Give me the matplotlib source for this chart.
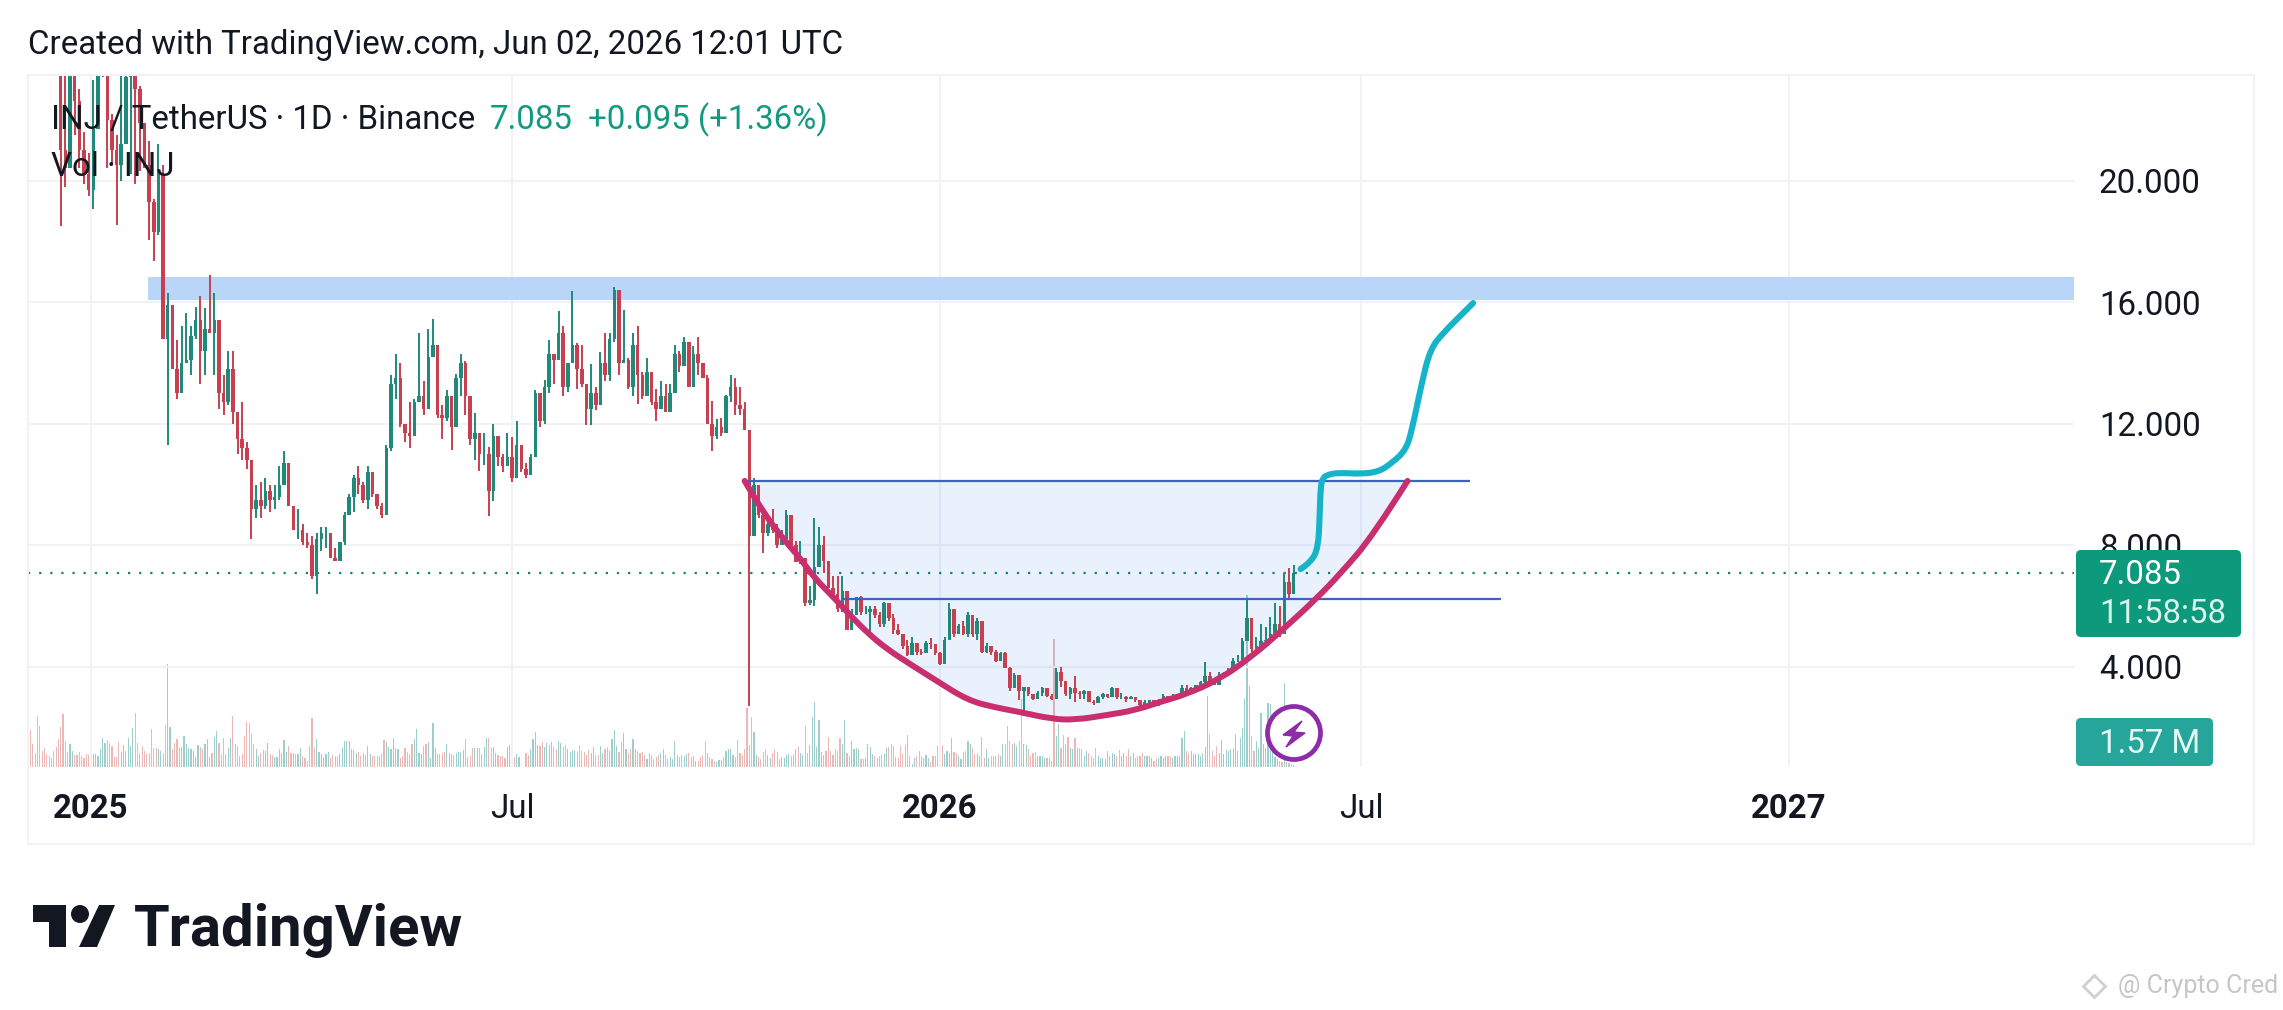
import numpy as np
import pandas as pd
import matplotlib
matplotlib.use("Agg")
import matplotlib.pyplot as plt
from matplotlib.patches import Circle, FancyBboxPatch, PathPatch, Polygon, Rectangle
from matplotlib.path import Path

plt.rcParams['font.family'] = ['Roboto', 'DejaVu Sans']

W, H = 2283, 1010
START = pd.Timestamp('2025-01-01')

# price candles, one every 2 days, first at day -13 (days counted from 2025-01-01)
first_day = -13
first_open = 24.5
closes = [
    21.0, 20.4, 25, 22.6, 21, 20.2, 19.7, 21.7, 23.5, 25,
    22, 21, 20.5, 21.2, 23.4, 25, 23, 21.9, 20.5, 19.3,
    18.3, 20.2, 14.8, 15.9, 13.8, 13, 14, 14.1, 14.9, 15.4,
    14.4, 15.1, 15, 15.4, 13, 12.7, 13.8, 12.4, 11.5, 11.2,
    10.8, 9.2, 9.5, 9.3, 9.8, 9.5, 9.6, 10, 10.7, 9.3,
    8.5, 8.5, 8.1, 8, 7, 8.2, 8.4, 8.4, 7.6, 7.5,
    8.1, 9, 9.6, 10.2, 10, 9.5, 10.4, 9.7, 9.3, 9,
    11.2, 13.3, 13.5, 12, 11.7, 11.6, 12.7, 12.9, 12.5, 14.2,
    14.6, 12.3, 12.2, 12.9, 11.9, 13.5, 14, 12.9, 11.5, 11.7,
    11, 11, 9.8, 11.6, 10.9, 10.6, 10.9, 10.2, 11.3, 10.5,
    10.3, 10.9, 13, 12.1, 13.2, 14.3, 14.1, 15, 13.2, 14,
    14.6, 13.8, 13.3, 12.5, 13, 12.6, 14, 13.6, 14.8, 16.4,
    14, 14.1, 13.2, 14.6, 13.6, 12.9, 13.7, 12.7, 12.5, 12.9,
    12.4, 13, 14.3, 13.9, 14.7, 13.2, 14.3, 14, 13.5, 12,
    11.6, 11.9, 11.7, 12.9, 13.2, 12.6, 12.5, 11.8, 8.3, 10,
    9, 8.4, 8.7, 8.5, 8, 8.2, 9, 8, 7.45, 7.6,
    6.1, 6.2, 7.3, 8, 7.5, 6.6, 6.4, 5.9, 6.5, 5.2,
    5.7, 6.3, 5.8, 5.8, 5.9, 5.7, 5.4, 6.1, 5.6, 5.2,
    5.1, 4.7, 4.4, 4.8, 4.5, 4.45, 4.8, 4.75, 4.45, 4.1,
    4.9, 5.9, 5.1, 5.35, 5.1, 5.7, 5.1, 5.5, 4.5, 4.7,
    4.5, 4.2, 4.45, 3.95, 3.3, 3.75, 3.2, 3.35, 3.1, 2.95,
    3.15, 3.3, 3.05, 2.95, 3.85, 3.55, 3.1, 3.3, 3.15, 3.1,
    3.2, 2.85, 2.8, 3, 3.1, 3, 3.3, 3, 3, 2.95,
    3, 2.9, 2.75, 2.85, 2.9, 2.75, 2.9, 3.05, 2.9, 2.95,
    3.1, 3.3, 3.2, 3.3, 3.4, 3.5, 3.7, 3.45, 3.4, 3.7,
    3.8, 3.9, 4.2, 4.2, 4.85, 5.6, 4.6, 4.7, 4.85, 4.9,
    5.1, 5.4, 5.1, 6.8, 6.4, 7.085,
]
highs = [
    25, 24, 26, 25, 23, 21.6, 20.9, 23.3, 24, 26,
    25, 22.2, 21.5, 23.5, 24, 26, 25, 23.1, 21.8, 21.3,
    19.4, 21.2, 20.5, 16.3, 14.95, 14.75, 15.2, 15.65, 15.2, 15.85,
    16.2, 15.8, 16.9, 16.3, 14.2, 13.6, 14.4, 14.4, 12.4, 12.7,
    11.4, 10.8, 10, 10.1, 10.2, 10, 10, 10.6, 11.1, 10.7,
    9.3, 9.2, 8.7, 8.4, 8.3, 8.4, 8.6, 8.6, 8.4, 7.9,
    8.1, 9.1, 9.7, 10.3, 10.6, 10.1, 10.6, 10.4, 9.7, 9.4,
    11.3, 13.6, 14.3, 14, 12, 12.7, 12.8, 15, 13.4, 15.1,
    15.45, 14.6, 12.6, 13.1, 12.9, 13.65, 14.3, 14.05, 12.9, 12.35,
    11.7, 11.7, 11.25, 12, 11.6, 11, 11.7, 11.55, 12.1, 11.3,
    10.7, 11, 13.1, 13, 13.45, 14.75, 14.3, 15.7, 15.2, 14,
    16.35, 14.65, 14.6, 13.3, 13.95, 13.2, 14.35, 15, 15, 16.5,
    16.4, 15.75, 14.15, 15, 15.2, 13.7, 14.15, 13.7, 13.15, 13.4,
    13.3, 13.3, 14.6, 14.4, 14.85, 14.7, 14.55, 14.85, 14, 13.6,
    12.75, 12.15, 12.2, 12.95, 13.6, 13.5, 13.2, 12.7, 11.8, 10.2,
    10, 9, 8.9, 9.2, 8.7, 8.5, 9.15, 9, 8.15, 8.15,
    7.6, 6.65, 8.9, 8.6, 8.3, 7.5, 7, 7, 7, 6.5,
    5.9, 6.3, 6.35, 6, 6, 6, 5.8, 6.15, 6.1, 5.75,
    5.4, 5.1, 4.9, 5, 4.8, 4.6, 4.85, 4.95, 4.75, 4.5,
    5, 6.1, 5.9, 5.4, 5.5, 5.8, 5.7, 5.6, 5.5, 4.8,
    4.7, 4.55, 4.5, 4.5, 4, 3.8, 3.75, 3.35, 3.35, 3.1,
    3.2, 3.35, 3.3, 3.1, 3.95, 4, 3.55, 3.35, 3.7, 3.2,
    3.25, 3.2, 2.9, 3.05, 3.15, 3.1, 3.35, 3.3, 3.15, 3.05,
    3.05, 3, 2.9, 2.9, 2.9, 2.9, 2.95, 3.1, 3.05, 3.1,
    3.1, 3.4, 3.4, 3.35, 3.4, 3.55, 4.15, 3.85, 3.6, 3.85,
    3.85, 3.95, 4.3, 4.4, 4.95, 6.2, 5.6, 5, 5.4, 5.3,
    5.65, 6.1, 6, 7.1, 7.25, 7.35,
]
lows = [
    18.5, 19.8, 20.5, 21.5, 20.4, 19.9, 19.5, 19.05, 21.7, 23.4,
    20.4, 20.5, 18.55, 20, 21.2, 20.2, 19.9, 20.3, 20.4, 18.05,
    17.35, 18.2, 14.8, 11.3, 13.8, 12.8, 13, 14, 13.6, 14.8,
    13.3, 13.6, 15, 13.6, 12.5, 12.3, 12.6, 12, 11, 10.8,
    10.5, 8.2, 8.9, 8.9, 9.2, 9.1, 9.2, 9.5, 10, 9.3,
    8.5, 8.2, 8, 7.9, 6.9, 6.4, 7.8, 7.9, 7.6, 7.5,
    7.5, 8, 9, 9.1, 9.7, 9.4, 9.2, 9.6, 9.2, 8.9,
    9, 11.1, 12.8, 11.9, 11.4, 11.2, 11.6, 12.7, 12.3, 12.5,
    14.2, 12.2, 11.5, 12.1, 11.15, 11.9, 12.9, 12.3, 11.3, 10.8,
    10.45, 10.65, 8.95, 9.45, 10.6, 10.4, 10.6, 10.1, 10.2, 10.4,
    10.2, 10.3, 10.9, 11.9, 12, 13, 13.3, 14.1, 12.9, 13.05,
    14, 13.15, 13.2, 11.95, 11.95, 12.45, 12.6, 13.4, 13.4, 14.7,
    13.6, 14, 13.15, 12.9, 12.65, 12.8, 12.9, 12.6, 12.1, 12.5,
    12.4, 12.4, 13, 13.7, 13.9, 13.2, 13.2, 13.6, 13.5, 12,
    11.1, 11.5, 11.6, 11.7, 12.7, 12.3, 12.3, 11.8, 2.7, 8.3,
    8.9, 7.75, 8.3, 8.4, 7.9, 8, 8.2, 7.85, 7.45, 7.4,
    6, 6.05, 6, 7.3, 7.1, 6.6, 6.3, 5.8, 5.8, 5.2,
    5.2, 5.7, 5.7, 5.75, 5, 5.6, 5.3, 5.3, 5.5, 5.1,
    5.05, 4.6, 4.35, 4.4, 4.4, 4.4, 4.45, 4.6, 4.4, 4.05,
    4.1, 4.9, 5, 5.1, 5.05, 5, 5, 4.9, 4.45, 4.45,
    4.4, 4.15, 4.2, 3.95, 3.2, 3.3, 2.9, 2.6, 3.05, 2.9,
    2.95, 3.05, 3, 2.9, 2.95, 3.35, 3.05, 2.95, 2.85, 2.95,
    2.95, 2.85, 2.75, 2.8, 2.95, 2.98, 3, 2.95, 2.95, 2.85,
    2.95, 2.85, 2.72, 2.75, 2.8, 2.72, 2.72, 2.85, 2.85, 2.9,
    2.95, 3.05, 3.15, 3.15, 3.25, 3.3, 3.4, 3.4, 3.4, 3.4,
    3.7, 3.7, 3.8, 4.15, 4.2, 4.85, 4.5, 4.5, 4.7, 4.8,
    4.85, 5.1, 5, 5.1, 6.2, 6.4,
]

# daily volume, unit 100k, segments start at day -27, 187, 322
vol_start_a = -27
vol_a = [
    46, 37, 23, 14, 51, 41, 16, 19, 13, 11, 9, 16, 20, 28, 40, 53, 26, 15, 23, 16,
    12, 12, 15, 11, 9, 13, 12, 10, 13, 13, 11, 18, 29, 24, 27, 24, 21, 10, 10, 25,
    15, 22, 16, 29, 21, 39, 54, 24, 14, 21, 16, 13, 14, 38, 19, 19, 18, 16, 14, 42,
    103, 40, 18, 24, 28, 19, 20, 31, 23, 19, 18, 16, 10, 22, 20, 18, 23, 28, 10, 14,
    30, 36, 24, 13, 29, 13, 19, 29, 51, 23, 21, 11, 13, 31, 45, 44, 33, 23, 18, 11,
    14, 17, 16, 24, 13, 12, 10, 10, 18, 14, 27, 15, 21, 14, 14, 13, 13, 19, 11, 9,
    6, 21, 49, 19, 28, 15, 13, 10, 13, 15, 9, 12, 11, 11, 13, 19, 26, 26, 26, 18,
    17, 14, 15, 11, 14, 12, 21, 13, 11, 11, 11, 11, 13, 27, 25, 20, 18, 29, 19, 18,
    9, 11, 19, 15, 13, 23, 28, 38, 14, 13, 21, 23, 25, 9, 44, 19, 13, 13, 14, 15,
    23, 14, 13, 12, 14, 15, 15, 17, 28, 10, 11, 19, 19, 19, 19, 13, 20, 29, 29, 19,
    20, 14, 12, 11, 11, 9, 20, 22, 10, 10, 13, 10,
]
vol_start_b = 187
vol_b = [
    14, 12, 18, 28, 35, 22, 21, 25, 20, 24, 22, 25, 20, 18, 26, 24, 20, 22, 18, 15,
    17, 16, 15, 22, 16, 15, 12, 17, 14, 20, 12, 12, 21, 14, 18, 20, 16, 28, 37, 21,
    15, 25, 34, 18, 14, 18, 28, 18, 16, 14, 15, 12, 8, 14, 12, 8, 10, 12, 14, 18,
    12, 8, 10, 8, 26, 12, 10, 12, 11, 13, 14, 10, 11, 6, 6, 10, 12, 26, 14, 10,
    8, 6, 5, 7, 7, 10, 16, 18, 18, 12, 10, 27, 14, 12, 18, 59, 22, 50, 35, 12,
    10, 8, 15, 18, 12, 9, 14, 18, 15, 8, 10, 9, 12, 13, 11, 13, 18, 20, 14, 12,
    41, 14, 22, 50, 65, 20, 47, 15, 12, 16, 30, 16, 12, 18, 16,
]
vol_start_c = 322
vol_c = [
    29, 23, 47, 14, 11, 26, 18, 19, 18, 8, 8, 9, 23, 20, 13, 11, 9, 11, 12, 13,
    19, 20, 23, 21, 10, 9, 21, 13, 22, 32, 11, 3, 9, 11, 16, 11, 9, 12, 9, 5,
    11, 11, 21, 9, 22, 13, 16, 14, 29, 15, 14, 11, 8, 15, 16, 26, 23, 19, 13, 13,
    11, 30, 9, 18, 9, 11, 11, 11, 13, 11, 23, 23, 41, 26, 23, 24, 21, 26, 68, 23,
    22, 18, 11, 14, 15, 11, 11, 11, 9, 9, 9, 6, 128, 31, 43, 19, 32, 23, 30, 19,
    18, 29, 19, 19, 18, 11, 16, 14, 11, 9, 19, 11, 9, 9, 8, 16, 11, 14, 13, 11,
    17, 11, 14, 11, 18, 11, 14, 9, 11, 11, 14, 11, 11, 11, 9, 6, 8, 9, 11, 9,
    11, 11, 11, 9, 11, 11, 11, 29, 36, 16, 14, 16, 13, 13, 13, 11, 14, 20, 71, 33,
    16, 11, 21, 14, 27, 13, 17, 16, 18, 18, 33, 16, 29, 39, 68, 172, 81, 31, 16, 26,
    19, 54, 23, 19, 64, 63, 15, 10, 8, 6, 5, 84, 5, 4, 3, 2,
]

# drawn objects
zone_low, zone_high, zone_day = 16.08, 16.83, 24.5
cup_top, cup_end_day = 10.12, 593
neck_price, neck_start_day, neck_end_day = 6.24, 323, 606
last_price = 7.085
arc_day = [281, 282, 287.6, 295.5, 305.5, 310.5, 321, 327, 334, 342, 352, 363, 377, 388.7, 398.6, 413,
           423, 437, 449, 460, 470, 484.6, 499, 513, 526.7, 537, 551, 566]
arc_price = [10.12, 9.99, 9.27, 8.4, 7.52, 6.97, 6.15, 5.65, 5.11, 4.6, 4.1, 3.57, 2.9, 2.67, 2.53, 2.29,
             2.26, 2.42, 2.58, 2.86, 3.08, 3.57, 4.34, 5.27, 6.24, 7.06, 8.3, 10.12]
path_day = [520, 524.8, 527.6, 528.2, 528.6, 529.5, 531.4, 536.3, 545.9, 553.6, 559.3, 565.3, 567.9, 571.8,
            575.7, 581.7, 589.9, 594.2]
path_price = [7.22, 7.46, 7.96, 8.94, 9.93, 10.2, 10.32, 10.39, 10.35, 10.42, 10.71, 11.14, 11.8, 13.24,
              14.46, 15.02, 15.64, 15.97]

price_ticks = [4, 8, 12, 16, 20]
time_ticks = ['2025-01-01', '2025-07-01', '2026-01-01', '2026-07-01', '2027-01-01']
time_labels = ['2025', 'Jul', '2026', 'Jul', '2027']

TEAL = '#1f8a7a'
RED = '#c8404f'
INK = '#131722'
GRID = '#f0f2f6'
FONT_PX = 33


def px(size):
    return size * 0.72


def smooth_path(xs, ys):
    # hand drawn strokes: read points as quadratic control points
    pts = np.column_stack([xs, ys])
    verts = [pts[0]]
    codes = [Path.MOVETO]
    for i in range(1, len(pts) - 1):
        end = pts[i + 1] if i == len(pts) - 2 else (pts[i] + pts[i + 1]) / 2
        verts += [pts[i], end]
        codes += [Path.CURVE3, Path.CURVE3]
    return Path(verts, codes)


n = min(len(closes), len(highs), len(lows))
days = first_day + 2 * np.arange(n)
df = pd.DataFrame({'day': days, 'close': closes[:n], 'high': highs[:n], 'low': lows[:n]})
df['open'] = df['close'].shift(1).fillna(first_open)
df['up'] = df['close'] >= df['open']
df['color'] = np.where(df['up'], TEAL, RED)

fig = plt.figure(figsize=(W / 100, H / 100), dpi=100, facecolor='white')
pane = [28 / W, (H - 767) / H, (2074 - 28) / W, 692 / H]
xlim = (-27.08, 852.5)

vax = fig.add_axes(pane, zorder=1)
vax.set_xlim(xlim)
vax.set_ylim(0, 692)
vax.axis('off')
for start, vals in [(vol_start_a, vol_a), (vol_start_b, vol_b), (vol_start_c, vol_c)]:
    vdays = start + np.arange(len(vals))
    idx = np.clip((vdays - first_day) // 2, 0, n - 1)
    vcolors = np.where(df['up'].values[idx], '#3f9f9a', '#d9736f')
    vax.bar(vdays, vals, width=0.5, color=vcolors, alpha=0.5, linewidth=0)

ax = fig.add_axes(pane, zorder=2)
ax.patch.set_alpha(0)
ax.set_xlim(xlim)
ax.set_ylim(0.71, 23.47)
for s in ax.spines.values():
    s.set_visible(False)
tick_days = [(pd.Timestamp(t) - START).days for t in time_ticks]
ax.set_xticks(tick_days, time_labels)
ax.set_yticks(price_ticks, [f'{p:.3f}' for p in price_ticks])
ax.yaxis.tick_right()
ax.tick_params(axis='both', length=0, labelcolor=INK, labelsize=px(FONT_PX))
ax.tick_params(axis='x', pad=px(26))
ax.tick_params(axis='y', pad=px(25))
for lab in ax.get_xticklabels():
    if lab.get_text() != 'Jul':
        lab.set_fontweight('bold')
ax.grid(True, color=GRID, lw=1.5, zorder=0)
ax.set_axisbelow(True)

ax.add_patch(Rectangle((zone_day, zone_low), xlim[1] - zone_day, zone_high - zone_low,
                       color='#b9d6f9', lw=0, zorder=1))
ax.fill_between(arc_day, arc_price, cup_top, color='#2e7bf0', alpha=0.1, lw=0, zorder=1)

ax.axhline(last_price, color='#1d7d6b', lw=1.6, ls=(0, (1, 4)), zorder=2)

ax.vlines(df['day'], df['low'], df['high'], colors=df['color'], lw=1.4, zorder=3)
ax.bar(df['day'], (df['close'] - df['open']).abs(), bottom=df[['open', 'close']].min(axis=1),
       width=1.5, color=df['color'], lw=0, zorder=3)

ax.hlines(cup_top, arc_day[0], cup_end_day, color='#3c62c4', lw=1.6, zorder=4)
ax.hlines(neck_price, neck_start_day, neck_end_day, color='#3c62c4', lw=1.6, zorder=4)
ax.add_patch(PathPatch(smooth_path(arc_day, arc_price), fill=False, ec='#c92f6e', lw=4.3,
                       capstyle='round', joinstyle='round', zorder=5))
ax.add_patch(PathPatch(smooth_path(path_day, path_price), fill=False, ec='#17b3c9', lw=4.4,
                       capstyle='round', joinstyle='round', zorder=5))

# everything around the pane, in figure pixels
ov = fig.add_axes([0, 0, 1, 1], zorder=3)
ov.set_xlim(0, W)
ov.set_ylim(H, 0)
ov.axis('off')
ov.patch.set_alpha(0)

ov.add_patch(Rectangle((28, 75), 2254 - 28, 844 - 75, fill=False, ec=GRID, lw=1.5))

ov.text(28, 45, 'Created with TradingView.com, Jun 02, 2026 12:01 UTC', fontsize=px(FONT_PX), color=INK, va='center')
ov.text(51, 120, 'INJ / TetherUS · 1D · Binance', fontsize=px(FONT_PX), color=INK, va='center')
ov.text(490, 120, '7.085', fontsize=px(FONT_PX), color='#119a80', va='center')
ov.text(588, 120, '+0.095 (+1.36%)', fontsize=px(FONT_PX), color='#119a80', va='center')
ov.text(51, 167, 'Vol · INJ', fontsize=px(FONT_PX), color=INK, va='center')

ov.add_patch(FancyBboxPatch((2076, 550), 165, 87, boxstyle='round,pad=0,rounding_size=5',
                            fc='#0d9a7c', ec='none'))
ov.text(2099, 575, '7.085', fontsize=px(FONT_PX), color='white', va='center')
ov.text(2099, 614, '11:58:58', fontsize=px(FONT_PX), color='#d8f3ec', va='center')
ov.add_patch(FancyBboxPatch((2076, 718), 137, 48, boxstyle='round,pad=0,rounding_size=5',
                            fc='#26a69a', ec='none'))
ov.text(2099, 744, '1.57 M', fontsize=px(FONT_PX), color='#e6f7f4', va='center')

ov.add_patch(Circle((1294, 733), 26.5, fc='white', ec='#8e2ba8', lw=3.4))
ov.add_patch(Polygon([(1302, 721), (1283, 735), (1293, 736), (1286, 747), (1305, 733), (1294, 732)],
                     closed=True, fc='#8e2ba8', ec='#8e2ba8', lw=1))

# logo
ov.add_patch(Polygon([(33, 905), (66, 905), (66, 947), (49, 947), (49, 922), (33, 922)], fc=INK, ec='none'))
ov.add_patch(Circle((80, 914), 9, fc=INK, ec='none'))
ov.add_patch(Polygon([(99, 905), (115, 905), (97, 947), (79, 947)], fc=INK, ec='none'))
ov.text(134, 930, 'TradingView', fontsize=px(58), fontweight='bold', color=INK, va='center')

# watermark
ov.plot([2094], [986], marker='D', ms=11, mfc='none', mec='#cfcfcf', mew=2)
ov.text(2118, 986, '@ Crypto Cred', fontsize=px(25), color='#c6c6c6', va='center')

fig.savefig('out.png', dpi=100, facecolor='white')
